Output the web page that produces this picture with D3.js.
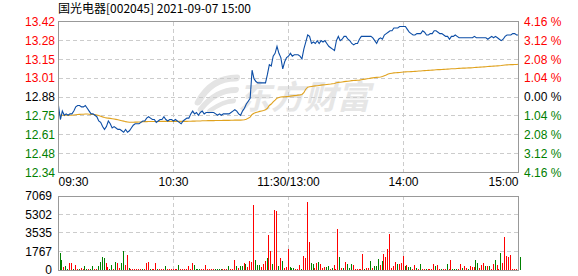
<!DOCTYPE html>
<html>
<head>
<meta charset="utf-8">
<script src="https://cdn.jsdelivr.net/npm/d3@7"></script>
<style>
  body { margin: 0; background: #fff; }
  svg text { font-family: "Liberation Sans", Arial, sans-serif; font-size: 12px; }
</style>
</head>
<body>
<svg id="chart" width="578" height="276"></svg>
<script>
const titleText = '国光电器[002045] 2021-09-07 15:00';
const preClose = 12.88;
const priceLabels = ['13.42', '13.28', '13.15', '13.01', '12.88', '12.75', '12.61', '12.48', '12.34'];
const pctLabels = ['4.16 %', '3.12 %', '2.08 %', '1.04 %', '0.00 %', '1.04 %', '2.08 %', '3.12 %', '4.16 %'];
const pctSteps = [4, 3, 2, 1, 0, -1, -2, -3, -4];
const timeLabels = ['09:30', '10:30', '11:30/13:00', '14:00', '15:00'];
const timeMinutes = [0, 60, 120, 180, 240];
const volLabels = ['7069', '5302', '3535', '1767', '0'];
const volLevels = [7069, 5302, 3535, 1767, 0];

// one value per minute, 09:30 .. 11:30 / 13:00 .. 15:00
const prices = [
  12.82, 12.72, 12.78, 12.75, 12.76, 12.75, 12.76, 12.76, 12.78, 12.81,
  12.82, 12.82, 12.81, 12.81, 12.82, 12.80, 12.78, 12.76, 12.76, 12.75,
  12.74, 12.71, 12.70, 12.67, 12.65, 12.67, 12.71, 12.69, 12.66, 12.67,
  12.66, 12.65, 12.65, 12.64, 12.63, 12.65, 12.63, 12.64, 12.66, 12.68,
  12.69, 12.69, 12.69, 12.70, 12.71, 12.71, 12.73, 12.74, 12.73, 12.72,
  12.72, 12.70, 12.71, 12.72, 12.72, 12.74, 12.72, 12.71, 12.72, 12.72,
  12.71, 12.72, 12.71, 12.70, 12.69, 12.71, 12.72, 12.73, 12.73, 12.76,
  12.78, 12.76, 12.77, 12.75, 12.77, 12.78, 12.76, 12.77, 12.77, 12.77,
  12.77, 12.77, 12.76, 12.75, 12.76, 12.75, 12.76, 12.76, 12.76, 12.76,
  12.77, 12.78, 12.79, 12.78, 12.76, 12.75, 12.78, 12.80, 12.83, 12.85,
  12.87, 13.07, 13.01, 12.99, 12.98, 12.98, 12.98, 12.98, 12.98, 13.04,
  13.11, 13.10, 13.17, 13.19, 13.24, 13.19, 13.16, 13.08, 13.13, 13.16,
  13.17, 13.19, 13.17, 13.18, 13.18, 13.18, 13.17, 13.15, 13.22, 13.27,
  13.32, 13.31, 13.26, 13.27, 13.26, 13.28, 13.26, 13.28, 13.27, 13.28,
  13.26, 13.24, 13.23, 13.22, 13.21, 13.28, 13.31, 13.28, 13.29, 13.31,
  13.31, 13.29, 13.28, 13.26, 13.25, 13.26, 13.26, 13.29, 13.31, 13.31,
  13.31, 13.31, 13.31, 13.31, 13.30, 13.28, 13.26, 13.29, 13.30, 13.29,
  13.32, 13.33, 13.34, 13.35, 13.35, 13.37, 13.37, 13.37, 13.38, 13.38,
  13.38, 13.38, 13.36, 13.34, 13.33, 13.32, 13.32, 13.33, 13.33, 13.33,
  13.35, 13.34, 13.32, 13.32, 13.33, 13.33, 13.35, 13.35, 13.34, 13.33,
  13.33, 13.32, 13.31, 13.31, 13.29, 13.31, 13.31, 13.32, 13.31, 13.30,
  13.30, 13.30, 13.30, 13.30, 13.30, 13.30, 13.30, 13.31, 13.30, 13.30,
  13.30, 13.30, 13.30, 13.30, 13.29, 13.30, 13.31, 13.30, 13.31, 13.30,
  13.29, 13.28, 13.29, 13.31, 13.32, 13.32, 13.32, 13.33, 13.33, 13.32,
  13.32
];

const avgPrices = [
  12.760, 12.750, 12.750, 12.750, 12.750, 12.750, 12.750, 12.750, 12.752, 12.754,
  12.756, 12.757, 12.758, 12.758, 12.759, 12.759, 12.758, 12.757, 12.756, 12.755,
  12.752, 12.749, 12.744, 12.739, 12.735, 12.732, 12.730, 12.728, 12.726, 12.724,
  12.721, 12.718, 12.715, 12.712, 12.709, 12.705, 12.703, 12.701, 12.701, 12.701,
  12.702, 12.702, 12.703, 12.703, 12.704, 12.705, 12.705, 12.706, 12.706, 12.706,
  12.706, 12.706, 12.706, 12.707, 12.707, 12.707, 12.707, 12.707, 12.707, 12.707,
  12.707, 12.707, 12.707, 12.707, 12.707, 12.707, 12.707, 12.707, 12.708, 12.708,
  12.709, 12.709, 12.710, 12.710, 12.710, 12.711, 12.711, 12.711, 12.712, 12.712,
  12.712, 12.712, 12.713, 12.713, 12.713, 12.713, 12.714, 12.714, 12.714, 12.714,
  12.715, 12.715, 12.716, 12.716, 12.716, 12.716, 12.717, 12.718, 12.722, 12.730,
  12.737, 12.756, 12.765, 12.770, 12.774, 12.778, 12.781, 12.784, 12.789, 12.800,
  12.820, 12.830, 12.845, 12.858, 12.872, 12.876, 12.880, 12.881, 12.882, 12.883,
  12.884, 12.886, 12.888, 12.890, 12.891, 12.893, 12.895, 12.898, 12.910, 12.935,
  12.950, 12.953, 12.955, 12.957, 12.959, 12.960, 12.962, 12.964, 12.966, 12.967,
  12.969, 12.971, 12.972, 12.974, 12.976, 12.981, 12.984, 12.985, 12.987, 12.989,
  12.991, 12.992, 12.994, 12.996, 12.997, 12.998, 12.999, 13.000, 13.003, 13.005,
  13.007, 13.009, 13.011, 13.014, 13.016, 13.018, 13.019, 13.020, 13.022, 13.026,
  13.031, 13.036, 13.043, 13.047, 13.049, 13.051, 13.052, 13.053, 13.054, 13.056,
  13.057, 13.058, 13.059, 13.059, 13.060, 13.061, 13.062, 13.063, 13.064, 13.065,
  13.066, 13.067, 13.068, 13.069, 13.070, 13.071, 13.072, 13.073, 13.074, 13.074,
  13.075, 13.076, 13.077, 13.078, 13.079, 13.080, 13.080, 13.081, 13.082, 13.083,
  13.084, 13.085, 13.085, 13.086, 13.087, 13.087, 13.088, 13.089, 13.090, 13.091,
  13.092, 13.093, 13.094, 13.095, 13.096, 13.097, 13.098, 13.099, 13.100, 13.101,
  13.102, 13.103, 13.105, 13.107, 13.108, 13.109, 13.110, 13.110, 13.111, 13.111,
  13.112
];

const volumes = [
  1590, 954, 318, 413, 95, 668, 668, 95, 477, 95,
  95, 190, 95, 381, 95, 95, 95, 381, 95, 95,
  381, 763, 1240, 1145, 636, 286, 95, 477, 95, 731,
  668, 159, 636, 1813, 477, 1431, 190, 95, 95, 95,
  95, 95, 95, 95, 95, 668, 731, 95, 95, 95,
  636, 95, 95, 95, 95, 381, 95, 95, 95, 95,
  95, 95, 477, 95, 95, 95, 95, 381, 95, 668,
  477, 95, 95, 95, 95, 95, 477, 95, 95, 95,
  95, 95, 95, 95, 95, 95, 95, 95, 381, 95,
  95, 955, 381, 222, 413, 413, 668, 572, 318, 860,
  795, 6209, 955, 477, 477, 318, 572, 860, 1146, 3343,
  1814, 572, 5731, 5636, 381, 1146, 860, 190, 286, 2006,
  286, 190, 190, 95, 95, 477, 95, 1337, 1146, 6495,
  2675, 668, 572, 190, 668, 763, 572, 190, 286, 286,
  381, 95, 190, 477, 95, 3916, 1241, 190, 190, 763,
  572, 190, 572, 477, 95, 95, 95, 95, 1528, 95,
  222, 159, 860, 222, 413, 413, 1050, 477, 860, 1528,
  1241, 2006, 3439, 190, 381, 763, 572, 572, 668, 1337,
  381, 477, 286, 286, 95, 477, 190, 95, 572, 95,
  95, 95, 95, 95, 95, 572, 381, 477, 95, 95,
  95, 95, 572, 95, 955, 95, 95, 95, 95, 572,
  190, 381, 190, 95, 381, 286, 286, 955, 668, 190,
  477, 668, 381, 381, 381, 95, 572, 955, 477, 95,
  1623, 668, 3152, 1337, 1241, 1432, 95, 95, 95, 95,
  1241
];

// r = up minute (red bar), g = down minute (green bar)
const volumeDir = (
  'ggrggrrgrr' + 'grrggrggrr' + 'ggggrrggrg' + 'rrggrrgrrr' + 'rrrgrrrgrr' +
  'rgrrrgrrrr' + 'rrgrrrrrrr' + 'ggggrrrrrr' + 'rggggrrrgr' + 'rrgrggrgrr' +
  'rrgggrrrgr' + 'rgrrgrgrrr' + 'gggrrrgrrr' + 'rggrrgrrrg' + 'grgrrrgrgr' +
  'gggrrrrrrg' + 'rrgrgggrgr' + 'rrrrrrgrrr' + 'grggrrgrgr' + 'rgrrrrgrrg' +
  'rrgrrgggrr' + 'grrgrrrggr' + 'rrgrgrrgrr' + 'grrrrrrrrg' + 'g'
).split('');

const svg = d3.select('#chart');
const left = 58.5, right = 518.5;
const priceTop = 21.5, priceBottom = 172.5;
const volTop = 196, volBottom = 270;
const red = '#ff0000', green = '#008000';

const x = d3.scaleLinear().domain([0, 240]).range([left, right]);
const y = d3.scaleLinear()
  .domain([preClose * (1 - 0.0416), preClose * (1 + 0.0416)])
  .range([priceBottom, priceTop]);
const yVol = d3.scaleLinear().domain([0, 7069]).range([volBottom, volTop]);

const levelValue = s => preClose * (1 + s * 0.0104);
const crisp = v => Math.floor(v) + 0.5;

// Title
svg.append('text')
  .attr('x', 58)
  .attr('y', 13)
  .style('font-family', '"Noto Sans CJK SC", sans-serif')
  .style('font-size', '12px')
  .attr('fill', '#000')
  .text(titleText);

// Watermark
const mark = svg.append('g');
const logo = mark.append('g').attr('transform', 'translate(217,94) skewX(-12)');
[['M-17,8 Q-9,-16 16,-16', 7], ['M-13,15 Q-2,-4 18,-4', 6], ['M-4,17 Q8,7 18,7', 5]].forEach(([d, w]) => {
  logo.append('path').attr('d', d).attr('fill', 'none')
    .attr('stroke', '#e4e4e4').attr('stroke-width', w).attr('stroke-linecap', 'round');
});
mark.append('text')
  .attr('x', 238)
  .attr('y', 109)
  .attr('textLength', 132)
  .attr('lengthAdjust', 'spacingAndGlyphs')
  .style('font-family', '"Noto Sans CJK SC", sans-serif')
  .style('font-size', '33px')
  .style('font-weight', 'bold')
  .style('font-style', 'italic')
  .attr('fill', '#e6e6e6')
  .text('东方财富');

// Grid lines
const grid = svg.append('g')
  .attr('stroke', '#cccccc')
  .attr('stroke-dasharray', '4,3')
  .attr('shape-rendering', 'crispEdges');

pctSteps.slice(1, -1).forEach(s => {
  const yy = crisp(y(levelValue(s)));
  grid.append('line').attr('x1', left).attr('x2', right).attr('y1', yy).attr('y2', yy);
});
volLevels.slice(1, -1).forEach(v => {
  const yy = crisp(yVol(v));
  grid.append('line').attr('x1', left).attr('x2', right).attr('y1', yy).attr('y2', yy);
});
timeMinutes.slice(1, -1).forEach(m => {
  const xx = crisp(x(m));
  grid.append('line').attr('x1', xx).attr('x2', xx).attr('y1', priceTop).attr('y2', priceBottom);
  grid.append('line').attr('x1', xx).attr('x2', xx).attr('y1', volTop).attr('y2', volBottom);
});

// Volume bars
svg.append('g')
  .attr('shape-rendering', 'crispEdges')
  .selectAll('rect')
  .data(volumes)
  .join('rect')
  .attr('x', (d, i) => Math.round(x(i)) + 1)
  .attr('width', 1)
  .attr('y', d => Math.min(yVol(d), volBottom - 1))
  .attr('height', d => Math.max(1, volBottom - yVol(d)))
  .attr('fill', (d, i) => volumeDir[i] === 'g' ? green : red);

// Average price line and price line
svg.append('path')
  .datum(avgPrices)
  .attr('d', d3.line().x((d, i) => x(i)).y(d => y(d)))
  .attr('fill', 'none')
  .attr('stroke', '#e0a21e')
  .attr('stroke-width', 1.1);

svg.append('path')
  .datum(prices)
  .attr('d', d3.line().x((d, i) => x(i)).y(d => y(d)))
  .attr('fill', 'none')
  .attr('stroke', '#0d4ea6')
  .attr('stroke-width', 1.1);

// Frames
svg.append('rect')
  .attr('x', left).attr('y', priceTop)
  .attr('width', right - left).attr('height', priceBottom - priceTop)
  .attr('fill', 'none').attr('stroke', '#999');
svg.append('rect')
  .attr('x', left).attr('y', volTop + 0.5)
  .attr('width', right - left).attr('height', volBottom - volTop)
  .attr('fill', 'none').attr('stroke', '#999');

const labelColor = s => s > 0 ? red : (s < 0 ? green : '#000');

// Price axis (left)
const priceAxis = svg.append('g')
  .attr('transform', 'translate(58,0)')
  .call(d3.axisLeft(y)
    .tickValues(pctSteps.map(levelValue))
    .tickFormat((d, i) => priceLabels[i])
    .tickSize(0)
    .tickPadding(3));
priceAxis.select('.domain').remove();
priceAxis.selectAll('text')
  .style('font-family', '"Liberation Sans", Arial, sans-serif')
  .style('font-size', '12px')
  .attr('fill', (d, i) => labelColor(pctSteps[i]));

// Percent axis (right)
const pctAxis = svg.append('g')
  .attr('transform', 'translate(520,0)')
  .call(d3.axisRight(y)
    .tickValues(pctSteps.map(levelValue))
    .tickFormat((d, i) => pctLabels[i])
    .tickSize(0)
    .tickPadding(4));
pctAxis.select('.domain').remove();
pctAxis.selectAll('text')
  .style('font-family', '"Liberation Sans", Arial, sans-serif')
  .style('font-size', '12px')
  .attr('fill', (d, i) => labelColor(pctSteps[i]));

// Time axis
svg.append('g').selectAll('text')
  .data(timeLabels)
  .join('text')
  .attr('x', (d, i) => x(timeMinutes[i]))
  .attr('y', 186)
  .attr('text-anchor', (d, i) => i === 0 ? 'start' : (i === timeLabels.length - 1 ? 'end' : 'middle'))
  .attr('fill', '#000')
  .text(d => d);

// Volume axis
const volAxis = svg.append('g')
  .attr('transform', 'translate(55,0)')
  .call(d3.axisLeft(yVol)
    .tickValues(volLevels)
    .tickFormat((d, i) => volLabels[i])
    .tickSize(0)
    .tickPadding(3));
volAxis.select('.domain').remove();
volAxis.selectAll('text')
  .style('font-family', '"Liberation Sans", Arial, sans-serif')
  .style('font-size', '12px')
  .attr('fill', '#000');
</script>
</body>
</html>
